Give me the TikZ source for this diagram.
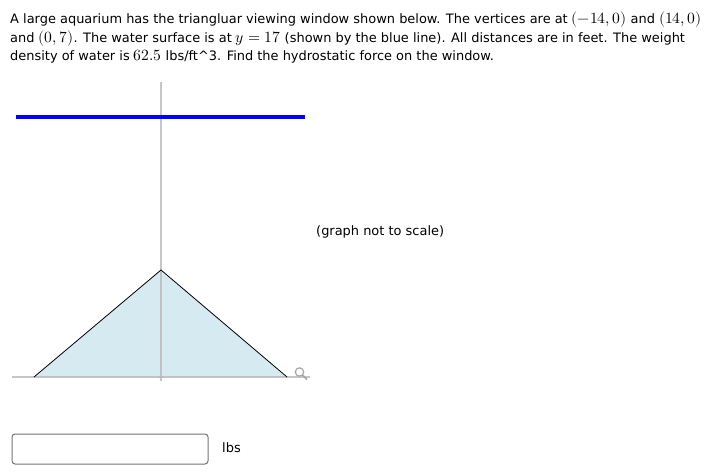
\documentclass[tikz,border=0pt]{standalone}
\usepackage{fontspec}
\setmainfont{DejaVu Sans}
\usepackage{unicode-math}
\setmathfont{Latin Modern Math}
\newcommand{\mm}[1]{{\fontsize{15.6}{18}\selectfont$#1$}}
\begin{document}
\begin{tikzpicture}[x=1pt,y=-1pt,
  txt/.style={anchor=base west,inner sep=0pt,font=\fontsize{12.95}{15}\selectfont},
  axisline/.style={draw=black!28,line width=1.1pt},
  edge/.style={draw=black,line width=0.8pt}]
\useasboundingbox (0,0) rectangle (704,473);
\clip (0,0) rectangle (704,473);
\node[txt] (l1) at (10,24) {A large aquarium has the triangluar viewing window shown below. The vertices are at \mm{(-14,0)} and \mm{(14,0)}};
\node[txt] (l2) at (10,43) {and \mm{(0,7)}. The water surface is at \mm{y=17} (shown by the blue line). All distances are in feet. The weight};
\node[txt] (l3) at (10,61) {density of water is \mm{62.5} lbs/ft\^{}3. Find the hydrostatic force on the window.};
% triangle
\coordinate (A) at (34,377);
\coordinate (B) at (287,377);
\coordinate (C) at (161,270);
\fill[fill={rgb,255:red,214;green,234;blue,242}] (A) -- (C) -- (B) -- cycle;
% axes
\coordinate (ytop) at (161,82);
\coordinate (ybot) at (161,381);
\coordinate (xl) at (12,377);
\coordinate (xr) at (310,377);
\draw[axisline,draw opacity=0.8] (ytop) -- (ybot);
\draw[axisline,draw opacity=0.8] (xl) -- (xr);
\draw[edge] (A) -- (C) -- (B);
\draw[axisline,line width=0.8pt] (158,377) -- (164,377);
% water
\coordinate (w1) at (16,117);
\coordinate (w2) at (305,117);
\draw[blue,line width=3.2pt] (w1) -- (w2);
% magnifier
\draw[black!35,line width=1.2pt] (299.5,372) circle (4.2);
\draw[black!35,line width=1.6pt] (302.5,375) -- (307,379.5);
\node[txt,anchor=base west] (note) at (316,236) {(graph not to scale)};
% answer box
\draw[black!55,line width=1pt,rounded corners=3pt] (12,434) rectangle (208,464);
\node[txt,anchor=base west] (lbs) at (222,452) {lbs};
\end{tikzpicture}
\end{document}
